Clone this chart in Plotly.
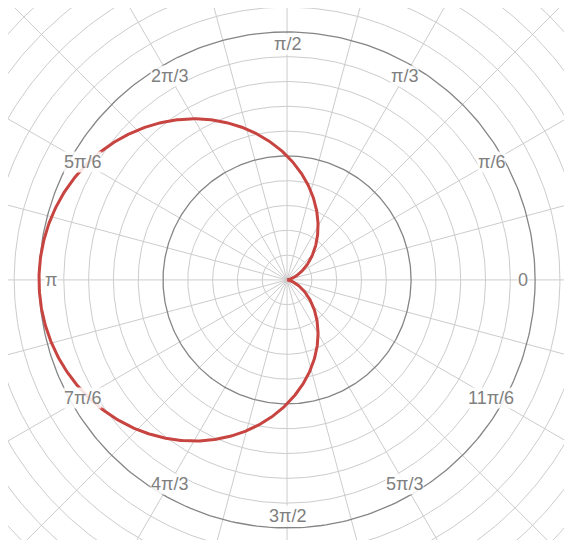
import numpy as np
import plotly.graph_objects as go

# cardioid r = 1 - cos(theta)
theta = np.linspace(0, 2 * np.pi, 721)
r = 1 - np.cos(theta)

label_angles = [0, 30, 60, 90, 120, 150, 180, 210, 240, 270, 300, 330]
label_text = ["0", "π/6", "π/3", "π/2", "2π/3", "5π/6", "π",
              "7π/6", "4π/3", "3π/2", "5π/3", "11π/6"]
minor_radii = [0.2, 0.4, 0.6, 0.8, 1.2, 1.4, 1.6, 1.8, 2.2, 2.4, 2.6, 2.8, 3.0, 3.2]
major_radii = [1, 2]
spoke_angles = list(range(0, 360, 15))

fig = go.Figure()
t = np.linspace(0, 2 * np.pi, 361)
for rr in minor_radii:
    fig.add_trace(go.Scatter(x=rr * np.cos(t), y=rr * np.sin(t), mode="lines",
                             line=dict(color="#cccccc", width=1), hoverinfo="skip"))
for a in spoke_angles:
    ar = np.radians(a)
    fig.add_trace(go.Scatter(x=[0, 4 * np.cos(ar)], y=[0, 4 * np.sin(ar)], mode="lines",
                             line=dict(color="#cccccc", width=1), hoverinfo="skip"))
for rr in major_radii:
    fig.add_trace(go.Scatter(x=rr * np.cos(t), y=rr * np.sin(t), mode="lines",
                             line=dict(color="#858585", width=1.3), hoverinfo="skip"))

fig.add_trace(go.Scatter(x=r * np.cos(theta), y=r * np.sin(theta), mode="lines",
                         line=dict(color="#c74440", width=3)))

for a, txt in zip(label_angles, label_text):
    ar = np.radians(a)
    fig.add_annotation(x=1.9 * np.cos(ar), y=1.9 * np.sin(ar), text=txt, showarrow=False,
                       font=dict(family="Arial", size=18, color="#808080"),
                       bgcolor="rgba(255,255,255,0.85)", borderpad=0)

fig.update_layout(width=572, height=540, margin=dict(l=0, r=0, t=0, b=0),
                  plot_bgcolor="white", paper_bgcolor="white", showlegend=False)
fig.update_xaxes(range=[-2.25, 2.362], visible=False)
fig.update_yaxes(range=[-2.162, 2.193], visible=False)
fig.write_html("out.html")
